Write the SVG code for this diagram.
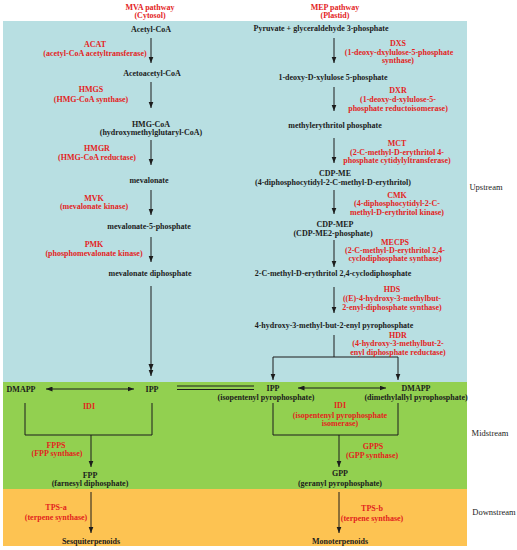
<svg xmlns="http://www.w3.org/2000/svg" width="517" height="550" viewBox="0 0 517 550">
<defs>
<style>
text{font-family:"Liberation Serif","DejaVu Serif",serif;font-weight:bold;font-size:8px;text-anchor:middle;fill:#1c1c1c}
.r{fill:#e3241e}
.s{font-weight:normal;font-size:8.5px}
.ln{stroke:#1c1c1c;stroke-width:1;fill:none}
.a{marker-end:url(#ah)}
.d{marker-end:url(#ah);marker-start:url(#as)}
</style>
<marker id="ah" markerUnits="userSpaceOnUse" markerWidth="8" markerHeight="8" refX="6.5" refY="2.5" orient="auto"><path d="M0,0 L6.5,2.5 L0,5 Z" fill="#1c1c1c"/></marker>
<marker id="as" markerUnits="userSpaceOnUse" markerWidth="8" markerHeight="8" refX="0" refY="2.5" orient="auto"><path d="M6.5,0 L0,2.5 L6.5,5 Z" fill="#1c1c1c"/></marker>
</defs>
<rect x="0" y="0" width="517" height="550" fill="#ffffff"/>
<g id="bands">
<rect x="3" y="21" width="464" height="361" fill="#b8dfe2"/>
<rect x="3" y="382" width="464" height="107" fill="#92d050"/>
<rect x="3" y="489" width="464" height="57" fill="#fdc352"/>
</g>
<g id="titles">
<text class="r" x="150" y="10">MVA pathway</text>
<text class="r" x="150" y="18">(Cytosol)</text>
<text class="r" x="335" y="10">MEP pathway</text>
<text class="r" x="335" y="18">(Plastid)</text>
<text class="s" x="486" y="190">Upstream</text>
<text class="s" x="490" y="436">Midstream</text>
<text class="s" x="494" y="515">Downstream</text>
</g>
<g id="connectors">
<line class="ln a" x1="151" y1="38" x2="151" y2="63"/>
<line class="ln a" x1="151" y1="82" x2="151" y2="108"/>
<line class="ln a" x1="151" y1="140" x2="151" y2="165"/>
<line class="ln a" x1="151" y1="190" x2="151" y2="215"/>
<line class="ln a" x1="151" y1="237" x2="151" y2="262"/>
<line class="ln a" x1="151" y1="286" x2="151" y2="376"/>
<path d="M148.5,364 L151,370.5 L153.5,364 Z" fill="#1c1c1c"/>
<line class="ln d" x1="46" y1="389" x2="134" y2="389"/>
<path class="ln" d="M25,403 V435 H152 V403"/>
<line class="ln a" x1="91" y1="435" x2="91" y2="467"/>
<line class="ln a" x1="91" y1="492" x2="91" y2="533"/>
<line class="ln" x1="177" y1="386" x2="254" y2="386"/>
<line class="ln" x1="177" y1="389.5" x2="254" y2="389.5"/>
<line class="ln a" x1="334" y1="38" x2="334" y2="63"/>
<line class="ln a" x1="334" y1="87" x2="334" y2="111"/>
<line class="ln a" x1="334" y1="138" x2="334" y2="163"/>
<line class="ln a" x1="334" y1="190" x2="334" y2="214"/>
<line class="ln a" x1="334" y1="240" x2="334" y2="267"/>
<line class="ln a" x1="334" y1="287" x2="334" y2="313"/>
<path class="ln" d="M334,335 V357 M273,357 H398"/>
<line class="ln a" x1="273" y1="357" x2="273" y2="380"/>
<line class="ln a" x1="398" y1="357" x2="398" y2="380"/>
<line class="ln d" x1="298" y1="388" x2="386" y2="388"/>
<path class="ln" d="M273,403 V435 H398 V403"/>
<line class="ln a" x1="339" y1="435" x2="339" y2="467"/>
<line class="ln a" x1="339" y1="492" x2="339" y2="533"/>
</g>
<g id="n-acetylcoa"><text x="151" y="32">Acetyl-CoA</text></g>
<g id="e-acat"><text class="r" x="95" y="47">ACAT</text><text class="r" x="95" y="56">(acetyl-CoA acetyltransferase)</text></g>
<g id="n-acetoacetylcoa"><text x="152" y="76">Acetoacetyl-CoA</text></g>
<g id="e-hmgs"><text class="r" x="91" y="92">HMGS</text><text class="r" x="91" y="102">(HMG-CoA synthase)</text></g>
<g id="n-hmgcoa"><text x="151" y="127">HMG-CoA</text><text x="151" y="135">(hydroxymethylglutaryl-CoA)</text></g>
<g id="e-hmgr"><text class="r" x="97" y="151">HMGR</text><text class="r" x="97" y="160">(HMG-CoA reductase)</text></g>
<g id="n-mevalonate"><text x="149" y="183">mevalonate</text></g>
<g id="e-mvk"><text class="r" x="94" y="201">MVK</text><text class="r" x="94" y="209">(mevalonate kinase)</text></g>
<g id="n-mev5p"><text x="149" y="229">mevalonate-5-phosphate</text></g>
<g id="e-pmk"><text class="r" x="94" y="247">PMK</text><text class="r" x="94" y="256">(phosphomevalonate kinase)</text></g>
<g id="n-mevpp"><text x="150" y="276">mevalonate diphosphate</text></g>
<g id="n-dmapp-l"><text x="21" y="392">DMAPP</text></g>
<g id="n-ipp-l"><text x="152" y="392">IPP</text></g>
<g id="e-idi-l"><text class="r" x="89" y="409">IDI</text></g>
<g id="e-fpps"><text class="r" x="56" y="448">FPPS</text><text class="r" x="57" y="456">(FPP synthase)</text></g>
<g id="n-fpp"><text x="90" y="478">FPP</text><text x="90" y="486">(farnesyl diphosphate)</text></g>
<g id="e-tpsa"><text class="r" x="56" y="510">TPS-a</text><text class="r" x="56" y="520">(terpene synthase)</text></g>
<g id="n-sesq"><text x="91" y="544">Sesquiterpenoids</text></g>
<g id="n-pyr"><text x="321" y="31">Pyruvate + glyceraldehyde 3-phosphate</text></g>
<g id="e-dxs"><text class="r" x="398" y="46">DXS</text><text class="r" x="399" y="55">(1-deoxy-dxylulose-5-phosphate</text><text class="r" x="398" y="63">synthase)</text></g>
<g id="n-dxp"><text x="333" y="80">1-deoxy-D-xylulose 5-phosphate</text></g>
<g id="e-dxr"><text class="r" x="398" y="93">DXR</text><text class="r" x="398" y="102">(1-deoxy-d-xylulose-5-</text><text class="r" x="398" y="111">phosphate reductoisomerase)</text></g>
<g id="n-mep"><text x="335" y="128">methylerythritol phosphate</text></g>
<g id="e-mct"><text class="r" x="397" y="146">MCT</text><text class="r" x="397" y="155">(2-C-methyl-D-erythritol 4-</text><text class="r" x="397" y="163">phosphate cytidylyltransferase)</text></g>
<g id="n-cdpme"><text x="335" y="176">CDP-ME</text><text x="333" y="185">(4-diphosphocytidyl-2-C-methyl-D-erythritol)</text></g>
<g id="e-cmk"><text class="r" x="397" y="198">CMK</text><text class="r" x="397" y="206">(4-diphosphocytidyl-2-C-</text><text class="r" x="397" y="215">methyl-D-erythritol kinase)</text></g>
<g id="n-cdpmep"><text x="335" y="227">CDP-MEP</text><text x="333" y="236">(CDP-ME2-phosphate)</text></g>
<g id="e-mecps"><text class="r" x="395" y="245">MECPS</text><text class="r" x="395" y="253">(2-C-methyl-D-erythritol 2,4-</text><text class="r" x="395" y="261">cyclodiphosphate synthase)</text></g>
<g id="n-mecpp"><text x="333" y="276">2-C-methyl-D-erythritol 2,4-cyclodiphosphate</text></g>
<g id="e-hds"><text class="r" x="392" y="292">HDS</text><text class="r" x="392" y="301">((E)-4-hydroxy-3-methylbut-</text><text class="r" x="392" y="310">2-enyl-diphosphate synthase)</text></g>
<g id="n-hmbpp"><text x="334" y="328">4-hydroxy-3-methyl-but-2-enyl pyrophosphate</text></g>
<g id="e-hdr"><text class="r" x="398" y="338">HDR</text><text class="r" x="398" y="346">(4-hydroxy-3-methylbut-2-</text><text class="r" x="398" y="355">enyl diphosphate reductase)</text></g>
<g id="n-ipp-r"><text x="273" y="391">IPP</text><text x="266" y="400">(isopentenyl pyrophosphate)</text></g>
<g id="n-dmapp-r"><text x="416" y="391">DMAPP</text><text x="416" y="400">(dimethylallyl pyrophosphate)</text></g>
<g id="e-idi-r"><text class="r" x="340" y="408">IDI</text><text class="r" x="340" y="418">(isopentenyl pyrophosphate</text><text class="r" x="340" y="426">isomerase)</text></g>
<g id="e-gpps"><text class="r" x="373" y="449">GPPS</text><text class="r" x="372" y="458">(GPP synthase)</text></g>
<g id="n-gpp"><text x="340" y="476">GPP</text><text x="340" y="486">(geranyl pyrophosphate)</text></g>
<g id="e-tpsb"><text class="r" x="372" y="511">TPS-b</text><text class="r" x="372" y="521">(terpene synthase)</text></g>
<g id="n-mono"><text x="340" y="544">Monoterpenoids</text></g>
</svg>
